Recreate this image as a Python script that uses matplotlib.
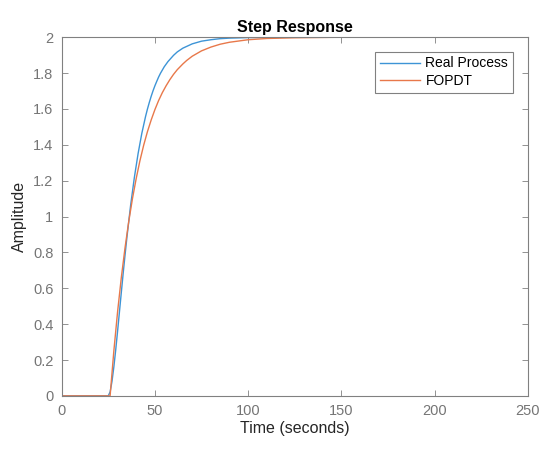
import numpy as np
import matplotlib.pyplot as plt

plt.rcParams['font.family'] = ['Liberation Sans', 'DejaVu Sans']

# 读图估计的数据点
t_real = [0, 25, 26, 27, 28, 29, 30, 31, 32, 33, 34, 35, 37, 39, 41, 43, 45, 46, 47,
          48, 49, 50, 51, 52, 53, 55, 57, 60, 62, 65, 70, 75, 80, 85, 90, 100, 125, 250]
y_real = [0, 0, 0.022, 0.080, 0.161, 0.256, 0.360, 0.468, 0.576, 0.683, 0.785, 0.883,
          1.063, 1.218, 1.351, 1.464, 1.558, 1.599, 1.636, 1.670, 1.701, 1.729, 1.754,
          1.778, 1.799, 1.835, 1.864, 1.899, 1.918, 1.939, 1.963, 1.978, 1.986, 1.992,
          1.995, 1.998, 2.0, 2.0]

t_fopdt = [0, 26, 28, 30, 32, 34, 36, 38, 40, 42, 44, 46, 48, 50, 52, 54, 56, 58, 60,
           62, 65, 67, 70, 75, 80, 85, 90, 100, 110, 125, 150, 250]
y_fopdt = [0, 0, 0.250, 0.468, 0.659, 0.826, 0.973, 1.101, 1.213, 1.312, 1.398, 1.473,
           1.538, 1.596, 1.647, 1.691, 1.729, 1.763, 1.793, 1.819, 1.851, 1.870, 1.894,
           1.924, 1.945, 1.961, 1.972, 1.986, 1.993, 1.997, 2.0, 2.0]

final_value = 2.0
x_ticks = [0, 50, 100, 150, 200, 250]
y_ticks = [0, 0.2, 0.4, 0.6, 0.8, 1, 1.2, 1.4, 1.6, 1.8, 2]
y_tick_labels = ['0', '0.2', '0.4', '0.6', '0.8', '1', '1.2', '1.4', '1.6', '1.8', '2']

fig = plt.figure(figsize=(5.5, 4.54), dpi=100)
ax = fig.add_axes([0.112, 0.128, 0.848, 0.790])

ax.plot([0, 250], [final_value, final_value], ':', color='#333333', linewidth=0.6)
ax.plot(t_real, y_real, color='#3D94D6', linewidth=1.0, label='Real Process')
ax.plot(t_fopdt, y_fopdt, color='#E8784A', linewidth=1.0, label='FOPDT')

ax.set_xlim(0, 250)
ax.set_ylim(0, 2)
ax.set_xticks(x_ticks)
ax.set_yticks(y_ticks)
ax.set_yticklabels(y_tick_labels)

grey = '#808080'
for s in ax.spines.values():
    s.set_color(grey)
    s.set_linewidth(0.8)
ax.tick_params(direction='in', top=True, right=True, length=4, width=0.6,
               colors=grey, labelsize=10.5, labelcolor='#757575', pad=6)

ax.set_title('Step Response', fontsize=11.5, fontweight='bold', pad=4)
ax.set_xlabel('Time (seconds)', fontsize=11.5, color='#262626', labelpad=2)
ax.set_ylabel('Amplitude', fontsize=11.5, color='#262626', labelpad=4)

leg = ax.legend(loc='upper right', bbox_to_anchor=(0.968, 0.96), fontsize=10,
                frameon=True, fancybox=False, handlelength=2.9, borderpad=0.35,
                labelspacing=0.25, handletextpad=0.4, borderaxespad=0)
leg.get_frame().set_edgecolor('#606060')
leg.get_frame().set_linewidth(0.8)

plt.savefig('out.png')
